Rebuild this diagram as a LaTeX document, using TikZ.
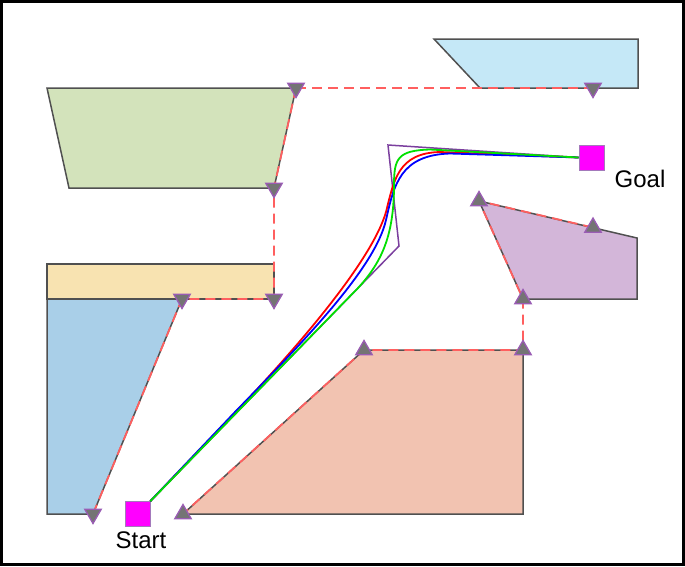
\documentclass[tikz,border=0pt]{standalone}
\usepackage{fontspec}
\setmainfont{Liberation Sans}
\usetikzlibrary{shapes.geometric}

\definecolor{obssky}{HTML}{C5E8F7}
\definecolor{obsgreen}{HTML}{D3E3BB}
\definecolor{obsyellow}{HTML}{F8E3B1}
\definecolor{obsblue}{HTML}{A9CFE8}
\definecolor{obssalmon}{HTML}{F2C3B1}
\definecolor{obspurple}{HTML}{D3B6D9}
\definecolor{edgegray}{HTML}{505050}
\definecolor{visred}{HTML}{FF5F5F}
\definecolor{markgray}{HTML}{747474}
\definecolor{markpurple}{HTML}{9A5CB4}
\definecolor{pathpurple}{HTML}{7B3F9E}
\definecolor{termpink}{HTML}{FF00FF}
\definecolor{curvered}{HTML}{FF0000}
\definecolor{curvegreen}{HTML}{00E000}
\definecolor{curveblue}{HTML}{0000FF}

\begin{document}
\begin{tikzpicture}[x=1pt, y=-1pt,
  obst/.style={draw=edgegray, line width=1.5pt},
  vis/.style={draw=visred, line width=1.8pt, dash pattern=on 10pt off 6pt},
  mk/.style={regular polygon, regular polygon sides=3, minimum size=19pt,
    inner sep=0pt, fill=markgray, draw=markpurple, line width=1.3pt},
  mkdown/.style={mk, shape border rotate=180},
  term/.style={fill=termpink, draw=pathpurple!70, line width=0.7pt,
    minimum size=25pt, inner sep=0pt},
  lab/.style={font=\fontsize{24}{28}\selectfont, anchor=base},
  traj/.style={line width=1.8pt}]
\useasboundingbox (0,0) rectangle (685,566);
\draw[line width=3pt] (1.5,1.5) rectangle (683.5,564.5);

% obstacle corners that carry markers
\coordinate (g1) at (296,88);
\coordinate (b1) at (593,88);
\coordinate (g2) at (274,188);
\coordinate (y2) at (274,299);
\coordinate (t1) at (182,299);
\coordinate (t2) at (93,514);
\coordinate (p1) at (479,201);
\coordinate (p2) at (593,227.5);
\coordinate (p3) at (523,299);
\coordinate (s1) at (364,350);
\coordinate (s2) at (523,350);
\coordinate (s3) at (183,514);

% obstacles
\filldraw[fill=obssky, obst] (434,39) -- (638,39) -- (638,88) -- (480,88) -- cycle;
\filldraw[fill=obsgreen, obst] (47,88) -- (g1) -- (g2) -- (69,188) -- cycle;
\filldraw[fill=obsyellow, obst] (47,264) rectangle (y2);
\filldraw[fill=obsblue, obst] (47,299) -- (t1) -- (t2) -- (47,514) -- cycle;
\filldraw[fill=obspurple, obst] (p1) -- (637,238) -- (637,299) -- (p3) -- cycle;
\filldraw[fill=obssalmon, obst] (s3) -- (s1) -- (s2) -- (523,514) -- cycle;

% visibility edges
\draw[vis] (g1) -- (b1);
\draw[vis] (g1) -- (g2) -- (y2) -- (t1) -- (t2);
\draw[vis] (p2) -- (p1) -- (p3) -- (s2) -- (s1) -- (s3);

\foreach \c in {g1,b1,g2,y2,t1,t2}
  \node[mkdown] (m\c) at (\c) {};
\foreach \c in {p1,p2,p3,s1,s2,s3}
  \node[mk] (m\c) at (\c) {};

\node[term] (start) at (137.5,514) {};
\node[term] (goal) at (591.5,157.5) {};
\node[lab] (startlab) at (141,548) {Start};
\node[lab] (goallab) at (640,187) {Goal};

% control polygon and smoothed paths
\coordinate (c1) at (399,246);
\coordinate (c2) at (388,145);
\draw[traj, draw=pathpurple, line width=1.5pt] (start.north east) -- (c1) -- (c2) -- (goal.west);
\draw[traj, draw=curvered] (start.north east) -- (230,418)
  .. controls (300,345) and (372,260) .. (386,212)
  .. controls (394,180) and (398,153) .. (440,152) -- (goal.west);
\draw[traj, draw=curveblue] (start.north east) -- (235,412)
  .. controls (305,340) and (375,268) .. (386,220)
  .. controls (394,185) and (400,155) .. (450,153.5) -- (goal.west);
\draw[traj, draw=curvegreen] (start.north east) -- (358,288)
  .. controls (382,262) and (394,235) .. (394,185)
  .. controls (394,158) and (398,150.5) .. (430,149.5) -- (goal.west);
\end{tikzpicture}
\end{document}
